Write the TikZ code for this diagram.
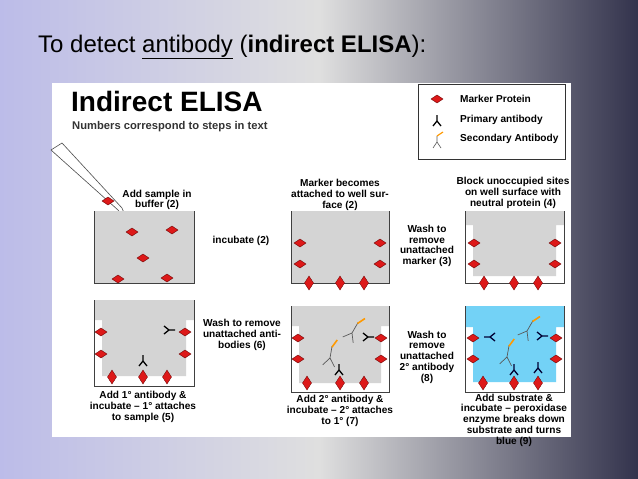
\documentclass[tikz,border=0pt]{standalone}
\usepackage{fontspec}
\setmainfont{Liberation Sans}
\begin{document}
\begin{tikzpicture}[x=1pt,y=-1pt,
  lbl/.style={font=\bfseries\fontsize{10.1}{10.7}\selectfont,align=center,inner sep=0pt},
  well/.style={draw=black!75,line width=0.9pt},
  mk/.style={fill=red!85!black!90,draw=red!40!black,line width=0.3pt}]
\newcommand\hd[2]{\fill[mk] (#1-6,#2)--(#1,#2-4)--(#1+6,#2)--(#1,#2+4)--cycle;}
\newcommand\vd[2]{\fill[mk] (#1-4.5,#2)--(#1,#2-7)--(#1+4.5,#2)--(#1,#2+7)--cycle;}
\newcommand\abody[4]{\begin{scope}[shift={(#1,#2)},rotate=#3]\draw[#4,line width=1.3pt] (0,0)--(0,-6) (0,0)--(-4,5) (0,0)--(4,5);\end{scope}}
\newcommand\sab[3]{\begin{scope}[shift={(#1,#2)},rotate=#3]\draw[gray!70!black,line width=0.7pt] (0,0)--(0,-12) (0,0)--(-6,8) (0,0)--(6,8);\draw[orange!80!yellow,line width=1.6pt] (0,-11)--(4,-19);\end{scope}}
\useasboundingbox (0,0) rectangle (638,479);
\shade[left color=gray!50!blue!35, right color=gray!80!blue!50!black, middle color=gray!25] (0,0) rectangle (638,479);
\node[anchor=west,inner sep=0pt,font=\fontsize{24}{28}\selectfont] (title) at (38,47) {To detect \underline{antibody} (\textbf{indirect ELISA}):};
\fill[white] (52,83) rectangle (571,437);
\node[anchor=west,font=\bfseries\fontsize{28}{30}\selectfont,inner sep=0pt] (h) at (71,101) {Indirect ELISA};
\node[anchor=west,font=\bfseries\fontsize{11.2}{12}\selectfont,inner sep=0pt,text=black!80] (sub) at (72,127) {Numbers correspond to steps in text};
% legend
\draw[black!80,line width=0.9pt] (418,84) rectangle (565,159);
\hd{437}{99}
\abody{437}{121}{0}{black}
\begin{scope}[shift={(437,142)}]\draw[gray!70!black,line width=0.6pt] (0,0)--(0,-6) (0,0)--(-4,6) (0,0)--(4,6);\draw[orange!80!yellow,line width=1.2pt](0,-6)--(6,-10);\end{scope}
\node[lbl,anchor=west] (l1) at (460,99) {Marker Protein};
\node[lbl,anchor=west] (l2) at (460,120) {Primary antibody};
\node[lbl,anchor=west] (l3) at (460,139) {Secondary Antibody};
% pipette
\draw[black!70,line width=0.6pt,fill=white] (51,150)--(118,210)--(129,225)--(122,208)--(62,143)--cycle;
\hd{108}{201}
% well 1
\fill[black!17] (94,211) rectangle (194,283);
\draw[well] (94,211)--(94,283)--(194,283)--(194,211);
\hd{132}{232}\hd{172}{230}\hd{143}{258}\hd{118}{279}\hd{167}{278}
% well 2
\fill[black!17] (291,211) rectangle (389,283);
\draw[well] (291,211)--(291,283)--(389,283)--(389,211);
\hd{300}{243}\hd{300}{264}\hd{380}{243}\hd{380}{264}\vd{309}{283}\vd{340}{283}\vd{364}{283}
% well 3
\fill[white] (465,211) rectangle (564,283);
\fill[black!17] (465,211)--(564,211)--(564,225)--(556,225)--(556,276)--(473,276)--(473,225)--(465,225)--cycle;
\draw[well] (465,211)--(465,283)--(564,283)--(564,211);
\hd{474}{243}\hd{474}{264}\hd{555}{243}\hd{555}{264}\vd{484}{283}\vd{514}{283}\vd{538}{283}
% well 4
\fill[white] (94,300) rectangle (194,386);
\fill[black!17] (94,300)--(194,300)--(194,320)--(186,320)--(186,376)--(102,376)--(102,320)--(94,320)--cycle;
\draw[well] (94,300)--(94,386)--(194,386)--(194,300);
\hd{101}{332}\hd{101}{354}\hd{185}{332}\hd{185}{354}\vd{112}{377}\vd{143}{377}\vd{167}{377}
\abody{169}{330}{-90}{black}
\abody{143}{361}{0}{black}
% well 5
\fill[white] (291,306) rectangle (389,392);
\fill[black!17] (291,306)--(389,306)--(389,326)--(381,326)--(381,383)--(299,383)--(299,326)--(291,326)--cycle;
\draw[well] (291,306)--(291,392)--(389,392)--(389,306);
\hd{298}{338}\hd{298}{359}\hd{381}{338}\hd{381}{359}\vd{307}{383}\vd{340}{383}\vd{364}{383}
\abody{368}{337}{-90}{black}
\abody{339}{370}{0}{black}
\sab{352}{333}{-30}
\sab{330}{358}{-10}
% well 6
\fill[white] (465,306) rectangle (564,392);
\fill[cyan!55!white] (465,306)--(564,306)--(564,327)--(556,327)--(556,382)--(473,382)--(473,327)--(465,327)--cycle;
\draw[well] (465,306)--(465,392)--(564,392)--(564,306);
\hd{473}{338}\hd{473}{359}\hd{556}{338}\hd{556}{359}\vd{483}{383}\vd{514}{383}\vd{538}{383}
\abody{490}{337}{90}{black!80!blue}
\abody{542}{336}{-90}{black!80!blue}
\abody{514}{370}{0}{black!80!blue}
\abody{538}{368}{0}{black!80!blue}
\sab{527}{331}{-30}
\sab{507}{357}{-10}
% labels
\node[lbl] (t1) at (157,200) {Add sample in\\buffer (2)};
\node[lbl] (t2) at (241,241) {incubate (2)};
\node[lbl] (t3) at (340,195) {Marker becomes\\attached to well sur-\\face (2)};
\node[lbl] (t4) at (427,246) {Wash to\\remove\\unattached\\marker (3)};
\node[lbl] (t5) at (513,193) {Block unoccupied sites\\on well surface with\\neutral protein (4)};
\node[lbl] (t6) at (242,335) {Wash to remove\\unattached anti-\\bodies (6)};
\node[lbl] (t7) at (143,407) {Add 1° antibody \&\\incubate – 1° attaches\\to sample (5)};
\node[lbl] (t8) at (427,357) {Wash to\\remove\\unattached\\2° antibody\\(8)};
\node[lbl] (t9) at (340,411) {Add 2° antibody \&\\incubate – 2° attaches\\to 1° (7)};
\node[lbl] (t10) at (514,420) {Add substrate \&\\incubate – peroxidase\\enzyme breaks down\\substrate and turns\\blue (9)};
\end{tikzpicture}
\end{document}
